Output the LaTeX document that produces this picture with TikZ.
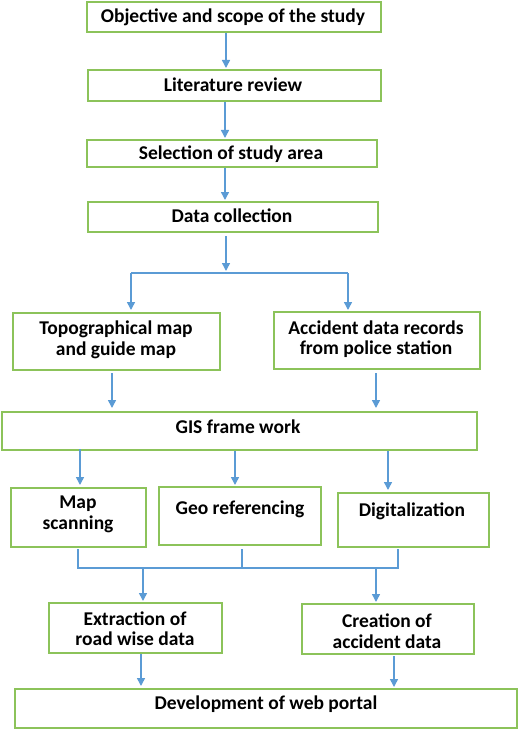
\documentclass[tikz,border=0pt]{standalone}
\usepackage{fontspec}
\setmainfont{Carlito}
\usetikzlibrary{arrows.meta,calc}
\definecolor{boxgreen}{RGB}{140,195,90}
\definecolor{arrblue}{RGB}{91,155,213}
\tikzset{
  box/.style={draw=boxgreen,line width=2pt,fill=white,inner sep=0pt},
  lbl/.style={font=\fontsize{19.5}{20.5}\selectfont\bfseries,align=center,inner sep=0pt},
  arr/.style={draw=arrblue,line width=1.5pt,-{Triangle[width=8pt,length=8pt]}},
  ln/.style={draw=arrblue,line width=1.5pt},
}
\begin{document}
\begin{tikzpicture}[x=1pt,y=-1pt]
\useasboundingbox (0,0) rectangle (520,730);
% boxes
\node[box,minimum width=294pt,minimum height=30pt] (b1) at (234,17) {};
\node[box,minimum width=293pt,minimum height=31pt] (b2) at (234.5,85.5) {};
\node[box,minimum width=290pt,minimum height=27pt] (b3) at (232,153.5) {};
\node[box,minimum width=290pt,minimum height=30pt] (b4) at (233,217) {};
\node[box,minimum width=207pt,minimum height=57pt] (b5) at (116.5,341.5) {};
\node[box,minimum width=206pt,minimum height=57pt] (b6) at (377,340.5) {};
\node[box,minimum width=475pt,minimum height=38pt] (b7) at (239.5,431) {};
\node[box,minimum width=135pt,minimum height=59pt] (b8) at (78.5,517.5) {};
\node[box,minimum width=162pt,minimum height=58pt] (b9) at (240,516) {};
\node[box,minimum width=151pt,minimum height=54pt] (b10) at (413.5,520) {};
\node[box,minimum width=173pt,minimum height=50pt] (b11) at (135.5,628) {};
\node[box,minimum width=172pt,minimum height=50pt] (b12) at (388,629) {};
\node[box,minimum width=502pt,minimum height=39pt] (b13) at (266,708.5) {};
% texts
\node[lbl] (t1) at (233,17) {Objective and scope of the study};
\node[lbl] (t2) at (233,85) {Literature review};
\node[lbl] (t3) at (231,154) {Selection of study area};
\node[lbl] (t4) at (232,216) {Data collection};
\node[lbl] (t5) at (116,340) {Topographical map\\and guide map};
\node[lbl] (t6) at (376,339) {Accident data records\\from police station};
\node[lbl] (t7) at (238,427) {GIS frame work};
\node[lbl] (t8) at (78,514.5) {Map\\scanning};
\node[lbl] (t9) at (240,509) {Geo referencing};
\node[lbl] (t10) at (412,511) {Digitalization};
\node[lbl] (t11) at (135,628.5) {Extraction of\\road wise data};
\node[lbl] (t12) at (387,631) {Creation of\\accident data};
\node[lbl] (t13) at (266,704) {Development of web portal};
% junction coordinates
\coordinate (j1) at (226,273);
\coordinate (j1l) at (131,273);
\coordinate (j1r) at (348,273);
\coordinate (j2l) at (78,568);
\coordinate (j2r) at (398,568);
\coordinate (j2a) at (143,568);
\coordinate (j2b) at (376,568);
\coordinate (j2m) at (242,568);
% connectors
\draw[arr] (b1.south -| 226,0) -- ($(b2.north -| 226,0)+(0,-1)$);
\draw[arr] (b2.south -| 225,0) -- ($(b3.north -| 225,0)+(0,-1)$);
\draw[arr] (b3.south -| 225,0) -- ($(b4.north -| 225,0)+(0,-1)$);
\draw[arr] ($(b4.south -| 226,0)+(0,3)$) -- ($(j1)+(0,-2)$);
\draw[ln] (j1l) -- (j1r);
\draw[arr] (j1l) -- ($(b5.north -| j1l)+(0,-2)$);
\draw[arr] (j1r) -- ($(b6.north -| j1r)+(0,-1)$);
\draw[arr] ($(b5.south -| 112,0)+(0,2)$) -- ($(b7.north -| 112,0)+(0,-3)$);
\draw[arr] ($(b6.south -| 376,0)+(0,3)$) -- ($(b7.north -| 376,0)+(0,-3)$);
\draw[arr] ($(b7.south -| 80,0)+(0,-2)$) -- ($(b8.north -| 80,0)+(0,-2)$);
\draw[arr] (b7.south -| 235,0) -- ($(b9.north -| 235,0)+(0,-1)$);
\draw[arr] (b7.south -| 388,0) -- ($(b10.north -| 388,0)+(0,-2)$);
\draw[ln] ($(b8.south -| j2l)+(0,1)$) -- (j2l) -- (j2r) -- ($(b10.south -| j2r)+(0,1)$);
\draw[ln] ($(b9.south -| j2m)+(0,3)$) -- (j2m);
\draw[arr] (j2a) -- ($(b11.north -| j2a)+(0,-1)$);
\draw[arr] (j2b) -- ($(b12.north -| j2b)+(0,-1)$);
\draw[arr] (b11.south -| 141,0) -- ($(b13.north -| 141,0)+(0,-2)$);
\draw[arr] ($(b12.south -| 394,0)+(0,1)$) -- ($(b13.north -| 394,0)+(0,-1)$);
\end{tikzpicture}
\end{document}
